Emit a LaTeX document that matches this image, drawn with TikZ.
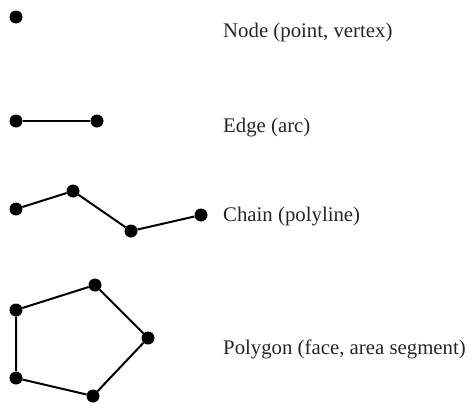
\documentclass[tikz,border=0pt]{standalone}
\usepackage{fontspec}
\setmainfont{Liberation Serif}
\begin{document}
\begin{tikzpicture}[x=1pt,y=-1pt,
  vtx/.style={circle,fill=black,inner sep=0pt,minimum size=13pt},
  lbl/.style={anchor=base west,inner sep=0pt,font=\fontsize{20.8}{23}\selectfont,text=black!85},
  seg/.style={line width=2pt,black}]
\useasboundingbox (0,0) rectangle (474,410);
% Node
\node[vtx] (n1) at (16,17) {};
% Edge
\node[vtx] (e1) at (16,121) {};
\node[vtx] (e2) at (97,121) {};
\draw[seg] (e1) -- (e2);
% Chain
\node[vtx] (c1) at (16,209) {};
\node[vtx] (c2) at (73,191) {};
\node[vtx] (c3) at (131,231) {};
\node[vtx] (c4) at (201,215) {};
\draw[seg] (c1) -- (c2) -- (c3) -- (c4);
% Polygon
\node[vtx] (p1) at (95,285) {};
\node[vtx] (p2) at (148,338) {};
\node[vtx] (p3) at (93,396) {};
\node[vtx] (p4) at (16,378) {};
\node[vtx] (p5) at (16,310) {};
\draw[seg] (p1) -- (p2) -- (p3) -- (p4) -- (p5) -- (p1);
% Labels
\node[lbl] (t1) at (223,37) {Node (point, vertex)};
\node[lbl] (t2) at (223,132) {Edge (arc)};
\node[lbl] (t3) at (223,221) {Chain (polyline)};
\node[lbl] (t4) at (223,354) {Polygon (face, area segment)};
\end{tikzpicture}
\end{document}
